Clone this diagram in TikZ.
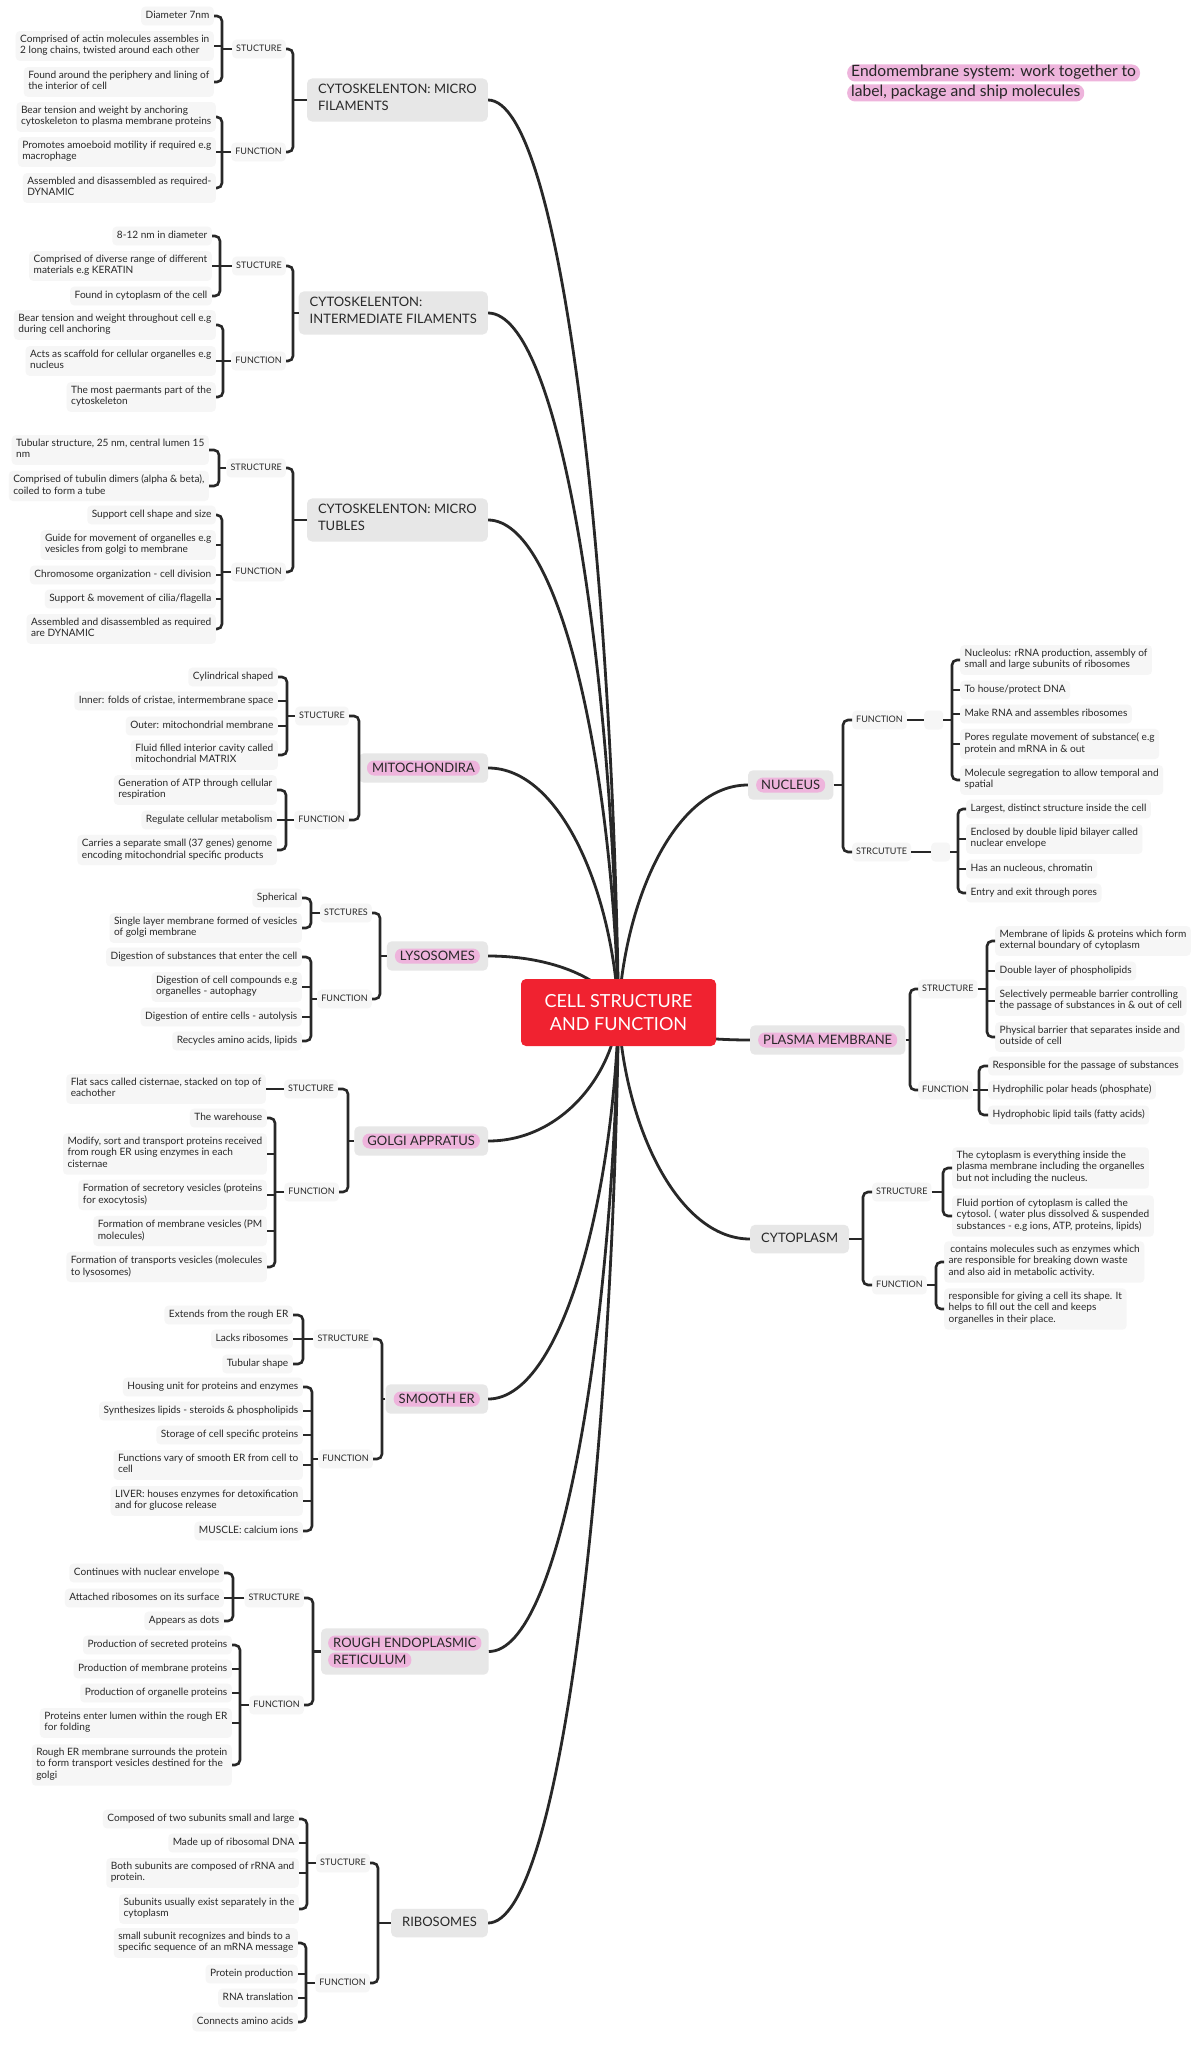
\documentclass[tikz,border=0pt]{standalone}
\usepackage{fontspec}
\setmainfont{Lato}
\usetikzlibrary{fit,calc}
\definecolor{lc}{RGB}{40,40,40}
\definecolor{txt}{RGB}{40,40,40}
\definecolor{leafg}{RGB}{246,246,246}
\definecolor{topg}{RGB}{231,231,231}
\definecolor{pinkhl}{RGB}{238,180,220}
\definecolor{cred}{RGB}{240,34,48}
\pgfdeclarelayer{background}
\pgfsetlayers{background,main}
\newcommand\lffont{\fontsize{10.1}{11.7}\selectfont}
\newcommand\sbfont{\fontsize{9}{11.7}\selectfont}
\newcommand\tpfont{\fontsize{13}{17}\selectfont}
% left bracket: parent, spine x, first kid, last kid, middle kids
\newcommand\lbr[5]{%
  \coordinate (spn) at (#2,0);
  \draw[br] (#1.west) -- (spn |- #1.west);
  \draw[br] (#3.east) -| (spn |- #4.east) -- (#4.east);
  \def\tmpmid{#5}\ifx\tmpmid\empty\else
  \foreach \kid in {#5}{\draw[br] (spn |- \kid.east) -- (\kid.east);}\fi
}
\newcommand\rbr[5]{%
  \coordinate (spn) at (#2,0);
  \draw[br] (#1.east) -- (spn |- #1.east);
  \draw[br] (#3.west) -| (spn |- #4.west) -- (#4.west);
  \def\tmpmid{#5}\ifx\tmpmid\empty\else
  \foreach \kid in {#5}{\draw[br] (spn |- \kid.west) -- (\kid.west);}\fi
}
\tikzset{
  leaf/.style={fill=leafg, rounded corners=4pt, inner xsep=4.5pt, inner ysep=3.5pt, align=left, font=\lffont, text=txt, execute at begin node=\strut, execute at end node=\strut, anchor=east},
  rleaf/.style={leaf, anchor=west},
  sub/.style={fill=leafg, rounded corners=4pt, inner xsep=4pt, inner ysep=3.5pt, font=\sbfont, text=txt, execute at begin node=\strut, anchor=east},
  rsub/.style={sub, anchor=west},
  topic/.style={fill=topg, rounded corners=5pt, inner xsep=11pt, inner ysep=5.75pt, align=left, font=\tpfont, text=txt, execute at begin node=\strut, execute at end node=\strut},
  pill/.style={fill=pinkhl, rounded corners=7pt, inner xsep=5pt, inner ysep=2pt, text height=9.5pt, text depth=1.5pt, font=\tpfont, text=txt},
  tbox/.style={fill=topg, rounded corners=5pt, inner xsep=8pt, inner ysep=7pt},
  emptybox/.style={fill=leafg, rounded corners=4pt, minimum width=19pt, minimum height=19pt, inner sep=0pt, anchor=west},
  endo/.style={fill=pinkhl, rounded corners=8pt, inner xsep=4pt, inner ysep=1.5pt, text height=11pt, text depth=3pt, font=\fontsize{15.6}{19}\selectfont, text=black!85, anchor=west},
  br/.style={draw=lc, line width=2.6pt, rounded corners=5pt},
  mainc/.style={draw=lc, line width=2.8pt},
}
\begin{document}
\begin{tikzpicture}[x=1pt,y=-1pt]
\begin{pgfonlayer}{background}
\fill[white] (0,0) rectangle (1200,2063);
\end{pgfonlayer}
\path[use as bounding box] (0,0) rectangle (1200,2063);

% ===== central node =====
\node[fill=cred, rounded corners=5pt, minimum width=195pt, minimum height=67pt, text=white, align=center, font=\fontsize{18}{23}\selectfont] (cc) at (618.5,1012.5) {CELL STRUCTURE\\AND FUNCTION};

% ===== endomembrane note =====
\node[endo] (en1) at (847,73) {Endomembrane system: work together to};
\node[endo] (en2) at (847,93) {label, package and ship molecules};

% ===== Cytoskeleton: micro filaments =====
\node[leaf] (mf1) at (214,16) {Diameter 7nm};
\node[leaf] (mf2) at (214,46) {Comprised of actin molecules assembles in\\2 long chains, twisted around each other};
\node[leaf] (mf3) at (214,82) {Found around the periphery and lining of\\the interior of cell};
\node[leaf] (mf4) at (216,117) {Bear tension and weight by anchoring\\cytoskeleton to plasma membrane proteins};
\node[leaf] (mf5) at (216,152) {Promotes amoeboid motility if required e.g\\macrophage};
\node[leaf] (mf6) at (216,188) {Assembled and disassembled as required-\\DYNAMIC};
\node[sub] (mfs) at (286,49) {STUCTURE};
\node[sub] (mff) at (286,152) {FUNCTION};
\node[topic, anchor=east] (mf) at (488,100) {CYTOSKELENTON: MICRO\\FILAMENTS};
\lbr{mfs}{222}{mf1}{mf3}{mf2}
\lbr{mff}{222}{mf4}{mf6}{mf5}
\lbr{mf}{293}{mfs}{mff}{}

% ===== Cytoskeleton: intermediate filaments =====
\node[leaf] (if1) at (212,236) {8-12 nm in diameter};
\node[leaf] (if2) at (212,266) {Comprised of diverse range of different\\materials e.g KERATIN};
\node[leaf] (if3) at (212,296) {Found in cytoplasm of the cell};
\node[leaf] (if4) at (216,325) {Bear tension and weight throughout cell e.g\\during cell anchoring};
\node[leaf] (if5) at (216,361) {Acts as scaffold for cellular organelles e.g\\nucleus};
\node[leaf] (if6) at (216,397) {The most paermants part of the\\cytoskeleton};
\node[sub] (ifs) at (286,266) {STUCTURE};
\node[sub] (iff) at (286,361) {FUNCTION};
\node[topic, anchor=east] (ifil) at (488,313) {CYTOSKELENTON:\\INTERMEDIATE FILAMENTS};
\lbr{ifs}{220}{if1}{if3}{if2}
\lbr{iff}{223}{if4}{if6}{if5}
\lbr{ifil}{293}{ifs}{iff}{}

% ===== Cytoskeleton: micro tubules =====
\node[leaf] (mt1) at (209,450) {Tubular structure, 25 nm, central lumen 15\\nm};
\node[leaf] (mt2) at (209,486) {Comprised of tubulin dimers (alpha \& beta),\\coiled to form a tube};
\node[leaf] (mt3) at (216,515) {Support cell shape and size};
\node[leaf] (mt4) at (216,545) {Guide for movement of organelles e.g\\vesicles from golgi to membrane};
\node[leaf] (mt5) at (216,575) {Chromosome organization - cell division};
\node[leaf] (mt6) at (216,599) {Support \& movement of cilia/flagella};
\node[leaf] (mt7) at (216,629) {Assembled and disassembled as required\\are DYNAMIC};
\node[sub] (mts) at (286,468) {STRUCTURE};
\node[sub] (mtf) at (286,572) {FUNCTION};
\node[topic, anchor=east] (mt) at (488,520) {CYTOSKELENTON: MICRO\\TUBLES};
\lbr{mts}{219}{mt1}{mt2}{}
\lbr{mtf}{222}{mt3}{mt7}{mt4,mt5,mt6}
\lbr{mt}{293}{mts}{mtf}{}

% ===== Mitochondria =====
\node[leaf] (mi1) at (278,677) {Cylindrical shaped};
\node[leaf] (mi2) at (278,701) {Inner: folds of cristae, intermembrane space};
\node[leaf] (mi3) at (278,726) {Outer: mitochondrial membrane};
\node[leaf] (mi4) at (278,755) {Fluid filled interior cavity called\\mitochondrial MATRIX};
\node[leaf] (mi5) at (277,790) {Generation of ATP through cellular\\respiration};
\node[leaf] (mi6) at (277,820) {Regulate cellular metabolism};
\node[leaf] (mi7) at (277,850) {Carries a separate small (37 genes) genome\\encoding mitochondrial specific products};
\node[sub] (mis) at (349,716) {STUCTURE};
\node[sub] (mif) at (349,820) {FUNCTION};
\node[pill, anchor=east] (mitoT) at (480,768) {MITOCHONDIRA};
\begin{pgfonlayer}{background}
\node[tbox, fit=(mitoT)] (mito) {};
\end{pgfonlayer}
\lbr{mis}{287}{mi1}{mi4}{mi2,mi3}
\lbr{mif}{286}{mi5}{mi7}{mi6}
\lbr{mito}{359}{mis}{mif}{}

% ===== Lysosomes =====
\node[leaf] (ly1) at (302,898) {Spherical};
\node[leaf] (ly2) at (302,928) {Single layer membrane formed of vesicles\\of golgi membrane};
\node[leaf] (ly3) at (302,957) {Digestion of substances that enter the cell};
\node[leaf] (ly4) at (302,987) {Digestion of cell compounds e.g\\organelles - autophagy};
\node[leaf] (ly5) at (302,1017) {Digestion of entire cells - autolysis};
\node[leaf] (ly6) at (302,1041) {Recycles amino acids, lipids};
\node[sub] (lys) at (372,913) {STCTURES};
\node[sub] (lyf) at (372,999) {FUNCTION};
\node[pill, anchor=east] (lysoT) at (480,956) {LYSOSOMES};
\begin{pgfonlayer}{background}
\node[tbox, fit=(lysoT)] (lyso) {};
\end{pgfonlayer}
\lbr{lys}{311}{ly1}{ly2}{}
\lbr{lyf}{311}{ly3}{ly6}{ly4,ly5}
\lbr{lyso}{380}{lys}{lyf}{}

% ===== Golgi =====
\node[leaf] (go1) at (266,1089) {Flat sacs called cisternae, stacked on top of\\eachother};
\node[leaf] (go2) at (267,1118) {The warehouse};
\node[leaf] (go3) at (267,1154) {Modify, sort and transport proteins received\\from rough ER using enzymes in each\\cisternae};
\node[leaf] (go4) at (267,1195) {Formation of secretory vesicles (proteins\\for exocytosis)};
\node[leaf] (go5) at (267,1231) {Formation of membrane vesicles (PM\\molecules)};
\node[leaf] (go6) at (267,1267) {Formation of transports vesicles (molecules\\to lysosomes)};
\node[sub] (gos) at (338,1089) {STUCTURE};
\node[sub] (gof) at (339,1192) {FUNCTION};
\node[pill, anchor=east] (golgiT) at (480,1141) {GOLGI APPRATUS};
\begin{pgfonlayer}{background}
\node[tbox, fit=(golgiT)] (golgi) {};
\end{pgfonlayer}
\draw[br] (gos.west) -- (go1.east);
\lbr{gof}{275}{go2}{go6}{go3,go4,go5}
\lbr{golgi}{348}{gos}{gof}{}

% ===== Smooth ER =====
\node[leaf] (se1) at (293,1315) {Extends from the rough ER};
\node[leaf] (se2) at (293,1339) {Lacks ribosomes};
\node[leaf] (se3) at (293,1364) {Tubular shape};
\node[leaf] (se4) at (303,1387) {Housing unit for proteins and enzymes};
\node[leaf] (se5) at (303,1411) {Synthesizes lipids - steroids \& phospholipids};
\node[leaf] (se6) at (303,1435) {Storage of cell specific proteins};
\node[leaf] (se7) at (303,1465) {Functions vary of smooth ER from cell to\\cell};
\node[leaf] (se8) at (303,1501) {LIVER: houses enzymes for detoxification\\and for glucose release};
\node[leaf] (se9) at (303,1531) {MUSCLE: calcium ions};
\node[sub] (ses) at (373,1339) {STRUCTURE};
\node[sub] (sef) at (373,1459) {FUNCTION};
\node[pill, anchor=east] (serT) at (480,1399) {SMOOTH ER};
\begin{pgfonlayer}{background}
\node[tbox, fit=(serT)] (ser) {};
\end{pgfonlayer}
\lbr{ses}{303}{se1}{se3}{se2}
\lbr{sef}{312}{se4}{se9}{se5,se6,se7,se8}
\lbr{ser}{382}{ses}{sef}{}

% ===== Rough ER =====
\node[leaf] (re1) at (224,1573) {Continues with nuclear envelope};
\node[leaf] (re2) at (224,1598) {Attached ribosomes on its surface};
\node[leaf] (re3) at (224,1621) {Appears as dots};
\node[leaf] (re4) at (232,1645) {Production of secreted proteins};
\node[leaf] (re5) at (232,1669) {Production of membrane proteins};
\node[leaf] (re6) at (232,1693) {Production of organelle proteins};
\node[leaf] (re7) at (232,1723) {Proteins enter lumen within the rough ER\\for folding};
\node[leaf] (re8) at (232,1765) {Rough ER membrane surrounds the protein\\to form transport vesicles destined for the\\golgi};
\node[sub] (res) at (304,1598) {STRUCTURE};
\node[sub] (rerf) at (304,1705) {FUNCTION};
\node[pill, anchor=west] (rerT1) at (328,1643) {ROUGH ENDOPLASMIC};
\node[pill, anchor=west] (rerT2) at (328,1660) {RETICULUM};
\begin{pgfonlayer}{background}
\node[tbox, fit=(rerT1)(rerT2), inner xsep=7pt] (rer) {};
\end{pgfonlayer}
\lbr{res}{233}{re1}{re3}{re2}
\lbr{rerf}{240}{re4}{re8}{re5,re6,re7}
\lbr{rer}{313}{res}{rerf}{}

% ===== Ribosomes =====
\node[leaf] (ri1) at (299,1819) {Composed of two subunits small and large};
\node[leaf] (ri2) at (299,1843) {Made up of ribosomal DNA};
\node[leaf] (ri3) at (299,1873) {Both subunits are composed of rRNA and\\protein.};
\node[leaf] (ri4) at (299,1909) {Subunits usually exist separately in the\\cytoplasm};
\node[leaf] (ri5) at (298,1943) {small subunit recognizes and binds to a\\specific sequence of an mRNA message};
\node[leaf] (ri6) at (298,1974) {Protein production};
\node[leaf] (ri7) at (298,1998) {RNA translation};
\node[leaf] (ri8) at (298,2022) {Connects amino acids};
\node[sub] (ris) at (370,1863) {STUCTURE};
\node[sub] (rif) at (370,1983) {FUNCTION};
\node[topic, anchor=east] (ribo) at (488,1923) {RIBOSOMES};
\lbr{ris}{307}{ri1}{ri4}{ri2,ri3}
\lbr{rif}{306}{ri5}{ri8}{ri6,ri7}
\lbr{ribo}{378}{ris}{rif}{}

% ===== Nucleus =====
\node[pill, anchor=west] (nuT) at (756,785) {NUCLEUS};
\begin{pgfonlayer}{background}
\node[tbox, fit=(nuT)] (nu) {};
\end{pgfonlayer}
\node[rsub] (nuf) at (852,720) {FUNCTION};
\node[emptybox] (nufe) at (924,720) {};
\node[rsub] (nus) at (852,852) {STRCUTUTE};
\node[emptybox] (nuse) at (931,852) {};
\node[rleaf] (nu1) at (960,660) {Nucleolus: rRNA production, assembly of\\small and large subunits of ribosomes};
\node[rleaf] (nu2) at (960,690) {To house/protect DNA};
\node[rleaf] (nu3) at (960,714) {Make RNA and assembles ribosomes};
\node[rleaf] (nu4) at (960,744) {Pores regulate movement of substance( e.g\\protein and mRNA in \& out};
\node[rleaf] (nu5) at (960,780) {Molecule segregation to allow temporal and\\spatial};
\node[rleaf] (nu6) at (966,809) {Largest, distinct structure inside the cell};
\node[rleaf] (nu7) at (966,839) {Enclosed by double lipid bilayer called\\nuclear envelope};
\node[rleaf] (nu8) at (966,869) {Has an nucleous, chromatin};
\node[rleaf] (nu9) at (966,893) {Entry and exit through pores};
\rbr{nu}{843}{nuf}{nus}{}
\draw[br] (nuf.east) -- (nufe.west);
\draw[br] (nus.east) -- (nuse.west);
\rbr{nufe}{952}{nu1}{nu5}{nu2,nu3,nu4}
\rbr{nuse}{958}{nu6}{nu9}{nu7,nu8}

% ===== Plasma membrane =====
\node[pill, anchor=west] (pmT) at (758,1040) {PLASMA MEMBRANE};
\begin{pgfonlayer}{background}
\node[tbox, fit=(pmT)] (pm) {};
\end{pgfonlayer}
\node[rsub] (pms) at (918,989) {STRUCTURE};
\node[rsub] (pmf) at (918,1090) {FUNCTION};
\node[rleaf] (pm1) at (995,941) {Membrane of lipids \& proteins which form\\external boundary of cytoplasm};
\node[rleaf] (pm2) at (995,971) {Double layer of phospholipids};
\node[rleaf] (pm3) at (995,1001) {Selectively permeable barrier controlling\\the passage of substances in \& out of cell};
\node[rleaf] (pm4) at (995,1037) {Physical barrier that separates inside and\\outside of cell};
\node[rleaf] (pm5) at (988,1066) {Responsible for the passage of substances};
\node[rleaf] (pm6) at (988,1090) {Hydrophilic polar heads (phosphate)};
\node[rleaf] (pm7) at (988,1115) {Hydrophobic lipid tails (fatty acids)};
\rbr{pm}{910}{pms}{pmf}{}
\rbr{pms}{987}{pm1}{pm4}{pm2,pm3}
\rbr{pmf}{979}{pm5}{pm7}{pm6}

% ===== Cytoplasm =====
\node[topic, anchor=west] (cy) at (750,1239) {CYTOPLASM};
\node[rsub] (cys) at (872,1192) {STRUCTURE};
\node[rsub] (cyf) at (872,1285) {FUNCTION};
\node[rleaf] (cy1) at (952,1168) {The cytoplasm is everything inside the\\plasma membrane including the organelles\\but not including the nucleus.};
\node[rleaf] (cy2) at (952,1216) {Fluid portion of cytoplasm is called the\\cytosol. ( water plus dissolved \& suspended\\substances - e.g ions, ATP, proteins, lipids)};
\node[rleaf] (cy3) at (944,1262) {\,contains molecules such as enzymes which\\are responsible for breaking down waste\\and also aid in metabolic activity.};
\node[rleaf] (cy4) at (944,1309) {responsible for giving a cell its shape. It\\helps to fill out the cell and keeps\\organelles in their place.};
\rbr{cy}{863}{cys}{cyf}{}
\rbr{cys}{943}{cy1}{cy2}{}
\rbr{cyf}{936}{cy3}{cy4}{}

% ===== main connectors =====
\begin{pgfonlayer}{background}
\draw[mainc] (mf.east) .. controls +(72,0) and +(-6,-456) .. (cc.center);
\draw[mainc] (ifil.east) .. controls +(72,0) and +(-6,-350) .. (cc.center);
\draw[mainc] (mt.east) .. controls +(72,0) and +(-6,-246) .. (cc.center);
\draw[mainc] (mito.east) .. controls +(72,0) and +(-6,-122) .. (cc.center);
\draw[mainc] (lyso.east) .. controls +(72,0) and +(-6,-28) .. (cc.center);
\draw[mainc] (golgi.east) .. controls +(72,0) and +(-6,64) .. (cc.center);
\draw[mainc] (ser.east) .. controls +(72,0) and +(-6,193) .. (cc.center);
\draw[mainc] (rer.east) .. controls +(72,0) and +(-6,320) .. (cc.center);
\draw[mainc] (ribo.east) .. controls +(72,0) and +(-6,455) .. (cc.center);
\draw[mainc] (nu.west) .. controls +(-72,0) and +(6,-114) .. (cc.center);
\draw[mainc] (pm.west) .. controls +(-72,0) and +(6,14) .. (cc.center);
\draw[mainc] (cy.west) .. controls +(-72,0) and +(6,114) .. (cc.center);
\end{pgfonlayer}
\end{tikzpicture}
\end{document}
